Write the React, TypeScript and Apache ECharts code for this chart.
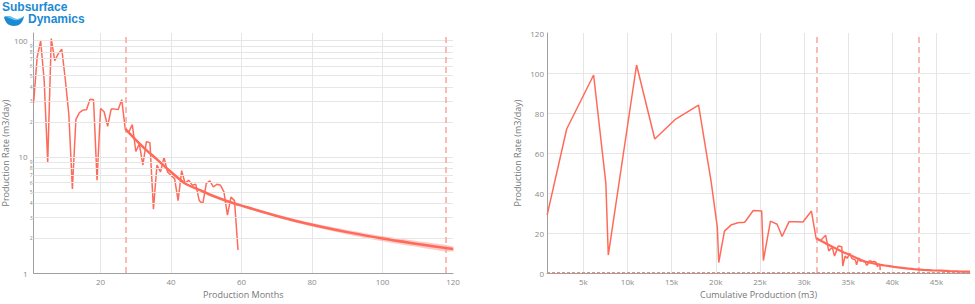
import React, { useEffect, useRef } from "react";
import * as echarts from "echarts";

// ---------- DATA ----------
const months = Array.from({ length: 59 }, (_, i) => i + 1);
const rates = [
  29, 72, 99, 45, 9, 104, 67, 77, 84, 46,
  23, 5.3, 21, 24, 25.2, 25.4, 31.3, 31, 6.3, 26,
  24.4, 18.3, 25.7, 25.7, 25.5, 31, 17.4, 16.3, 18.9, 11.1,
  12.9, 8.5, 13.5, 13.2, 3.55, 8.5, 7.4, 9.9, 7.4, 6.9,
  6.5, 4.2, 7.6, 5.9, 6.3, 5.7, 5.8, 4.2, 3.96, 5.9,
  6.2, 5.5, 5.8, 5.7, 5.0, 3.15, 4.5, 4.2, 1.58,
];
const DAYS_PER_MONTH = 30.8;

const forecastMonths = [27, 30, 33, 36, 40, 44, 48, 52, 56, 60, 70, 80, 90, 100, 110, 120];
const forecastRates = [17.4, 14.0, 11.4, 9.5, 7.4, 5.9, 5.2, 4.6, 4.15, 3.8, 3.1, 2.6, 2.25, 1.98, 1.78, 1.61];
const forecastUpper = [17.4, 14.05, 11.46, 9.56, 7.46, 5.96, 5.27, 4.67, 4.23, 3.88, 3.19, 2.69, 2.35, 2.08, 1.88, 1.69];
const forecastLower = [17.4, 13.95, 11.34, 9.44, 7.34, 5.84, 5.13, 4.53, 4.07, 3.72, 3.01, 2.51, 2.15, 1.88, 1.68, 1.53];

const forecastCum = [31370, 32820, 33990, 34960, 36000, 36820, 37500, 38100, 38650, 39140, 40200, 41080, 41830, 42470, 43050, 43570, 44500, 45500, 46500, 47500, 48800];
const forecastCumRates = [17.4, 14.0, 11.4, 9.5, 7.4, 5.9, 5.2, 4.6, 4.15, 3.8, 3.1, 2.6, 2.25, 1.98, 1.78, 1.61, 1.4, 1.2, 1.0, 0.85, 0.7];

const forecastStartMonth = 27;
const forecastEndMonth = 118;
const forecastStartCum = 31400;
const forecastEndCum = 43000;
const economicLimit = 0.4;

const logGridValues = [2, 3, 4, 5, 6, 7, 8, 9, 10, 20, 30, 40, 50, 60, 70, 80, 90, 100];

// ---------- STYLE ----------
const FONT = "'Open Sans', 'DejaVu Sans', sans-serif";
const RED = "#ff6b5b";
const DASH_RED = "#f7a59c";
const GRID = "#e6e6e6";
const AXIS = "#a0a0a0";
const LABEL = "#8a8a8a";
const LOGO_BLUE = "#1b8ad3";

const WAVE_PATH =
  "M0,2 C3,0 6,1 9,3 C13,5 17,4 20,1 C19,8 15,11 10,11 C4,11 1,7 0,2 Z";
const WAVE_CREST =
  "M1,3 C4,1 7,2 10,4 C13,6 17,5 20,2 C17,6 13,7 10,6 C7,5 4,3 1,3 Z";

export default function App() {
  const ref = useRef<HTMLDivElement>(null);

  useEffect(() => {
    if (!ref.current) return;
    try {
      echarts.graphic.registerShape("logoWave", echarts.graphic.extendPath(WAVE_PATH, {}));
      echarts.graphic.registerShape("logoCrest", echarts.graphic.extendPath(WAVE_CREST, {}));
    } catch (e) {}
    const chart = echarts.init(ref.current, null, { renderer: "svg" });

    const cum: number[] = [];
    let acc = 0;
    rates.forEach((r) => {
      acc += r * DAYS_PER_MONTH;
      cum.push(acc);
    });

    const histLeft = months.map((m, i) => [m, rates[i]]);
    const histRight = cum.map((c, i) => [c, rates[i]]);
    const fcLeft = forecastMonths.map((m, i) => [m, forecastRates[i]]);
    const fcRight = forecastCum.map((c, i) => [c, forecastCumRates[i]]);

    const isPow10 = (v: number) => {
      const l = Math.log10(v);
      return Math.abs(l - Math.round(l)) < 1e-6;
    };

    const option: any = {
      animation: false,
      textStyle: { fontFamily: FONT },
      grid: [
        { left: 31, top: 33, width: 422, height: 242 },
        { left: 547, top: 33, width: 423, height: 242 },
      ],
      xAxis: [
        {
          type: "value",
          gridIndex: 0,
          min: 1,
          max: 120,
          splitNumber: 6,
          name: "Production Months",
          nameLocation: "middle",
          nameGap: 15,
          nameTextStyle: { color: "#777", fontSize: 9, fontFamily: FONT },
          axisLine: { show: true, lineStyle: { color: AXIS } },
          axisTick: { show: false },
          axisLabel: { color: LABEL, fontSize: 8, margin: 4, showMinLabel: false },
          splitLine: { show: true, showMinLine: false, showMaxLine: false, lineStyle: { color: GRID } },
        },
        {
          type: "value",
          gridIndex: 1,
          min: 880,
          max: 48800,
          splitNumber: 10,
          name: "Cumulative Production (m3)",
          nameLocation: "middle",
          nameGap: 15,
          nameTextStyle: { color: "#777", fontSize: 9, fontFamily: FONT },
          axisLine: { show: true, lineStyle: { color: AXIS } },
          axisTick: { show: false },
          axisLabel: {
            color: LABEL,
            fontSize: 8,
            margin: 4,
            showMinLabel: false,
            showMaxLabel: false,
            formatter: (v: number) => v / 1000 + "k",
          },
          splitLine: { show: true, showMinLine: false, showMaxLine: false, lineStyle: { color: GRID } },
        },
      ],
      yAxis: [
        {
          type: "log",
          logBase: 10,
          gridIndex: 0,
          min: 1,
          max: 116,
          name: "Production Rate (m3/day)",
          nameLocation: "middle",
          nameGap: 22,
          nameTextStyle: { color: "#777", fontSize: 9, fontFamily: FONT },
          axisLine: { show: true, lineStyle: { color: AXIS } },
          axisTick: { show: false },
          axisLabel: {
            color: LABEL,
            fontSize: 8,
            margin: 6,
            formatter: (v: number) => (isPow10(v) ? String(Math.round(v)) : ""),
          },
          splitLine: { show: false },
        },
        {
          type: "value",
          gridIndex: 1,
          min: 0,
          max: 120,
          interval: 20,
          name: "Production Rate (m3/day)",
          nameLocation: "middle",
          nameGap: 25,
          nameTextStyle: { color: "#777", fontSize: 9, fontFamily: FONT },
          axisLine: { show: true, lineStyle: { color: AXIS } },
          axisTick: { show: false },
          axisLabel: { color: LABEL, fontSize: 8, margin: 3 },
          splitLine: { show: true, showMinLine: false, showMaxLine: false, lineStyle: { color: GRID } },
        },
      ],
      graphic: [
        {
          type: "text",
          left: 2,
          top: 1,
          style: {
            text: "Subsurface",
            fill: LOGO_BLUE,
            font: "bold 12px 'Liberation Sans', Arial, sans-serif",
            lineHeight: 11,
          },
        },
        {
          type: "text",
          left: 28,
          top: 13,
          style: {
            text: "Dynamics",
            fill: LOGO_BLUE,
            font: "bold 12px 'Liberation Sans', Arial, sans-serif",
            lineHeight: 11,
          },
        },
        {
          type: "logoWave",
          x: 4,
          y: 15,
          style: { fill: LOGO_BLUE },
        },
        {
          type: "logoCrest",
          x: 4,
          y: 14,
          style: { fill: "#6cc3ef" },
        },
      ],
      series: [
        {
          type: "line",
          xAxisIndex: 0,
          yAxisIndex: 0,
          data: [[1, 1]],
          showSymbol: false,
          lineStyle: { width: 0 },
          silent: true,
          z: 1,
          markLine: {
            silent: true,
            symbol: "none",
            animation: false,
            lineStyle: { color: GRID, type: "solid", width: 1 },
            data: logGridValues.map((v) => ({
              yAxis: v,
              label: {
                show: !isPow10(v),
                position: "start",
                distance: 1,
                color: LABEL,
                fontSize: 5,
                lineHeight: 5,
                padding: 0,
                fontFamily: FONT,
                formatter: String(Math.round(v / Math.pow(10, Math.floor(Math.log10(v) + 1e-9)))),
              },
            })),
          },
        },
        {
          type: "custom",
          xAxisIndex: 0,
          yAxisIndex: 0,
          data: [0],
          silent: true,
          z: 3,
          renderItem: (params: any, api: any) => {
            const pts: number[][] = [];
            forecastMonths.forEach((m, i) => pts.push(api.coord([m, forecastUpper[i]])));
            for (let i = forecastMonths.length - 1; i >= 0; i--) pts.push(api.coord([forecastMonths[i], forecastLower[i]]));
            return {
              type: "polygon",
              shape: { points: pts, smooth: 0.3 },
              style: { fill: "rgba(255,107,91,0.35)" },
            };
          },
        },
        {
          type: "line",
          xAxisIndex: 0,
          yAxisIndex: 0,
          data: [[1, 1]],
          showSymbol: false,
          lineStyle: { width: 0 },
          silent: true,
          z: 2,
          markLine: {
            silent: true,
            symbol: "none",
            animation: false,
            label: { show: false },
            lineStyle: { color: DASH_RED, type: [6, 4], width: 1.5 },
            data: [{ xAxis: forecastStartMonth }, { xAxis: forecastEndMonth }],
          },
        },
        {
          name: "History",
          type: "line",
          xAxisIndex: 0,
          yAxisIndex: 0,
          data: histLeft,
          showSymbol: false,
          lineStyle: { color: RED, width: 1.5 },
          z: 4,
        },
        {
          name: "Forecast",
          type: "line",
          xAxisIndex: 0,
          yAxisIndex: 0,
          data: fcLeft,
          smooth: 0.3,
          showSymbol: false,
          lineStyle: { color: RED, width: 2.5 },
          z: 5,
        },
        {
          type: "line",
          xAxisIndex: 1,
          yAxisIndex: 1,
          data: [[880, 0]],
          showSymbol: false,
          lineStyle: { width: 0 },
          silent: true,
          z: 2,
          markLine: {
            silent: true,
            symbol: "none",
            animation: false,
            label: { show: false },
            data: [
              { xAxis: forecastStartCum, lineStyle: { color: DASH_RED, type: [6, 4], width: 1.5 } },
              { xAxis: forecastEndCum, lineStyle: { color: DASH_RED, type: [6, 4], width: 1.5 } },
              { yAxis: economicLimit, lineStyle: { color: "#f28a7f", type: [3, 2], width: 1 } },
            ],
          },
        },
        {
          name: "History (cum)",
          type: "line",
          xAxisIndex: 1,
          yAxisIndex: 1,
          data: histRight,
          showSymbol: false,
          lineStyle: { color: RED, width: 1.5 },
          z: 4,
        },
        {
          name: "Forecast (cum)",
          type: "line",
          xAxisIndex: 1,
          yAxisIndex: 1,
          data: fcRight,
          smooth: 0.3,
          showSymbol: false,
          lineStyle: { color: RED, width: 2.2 },
          z: 5,
        },
      ],
    };

    chart.setOption(option);
    return () => chart.dispose();
  }, []);

  return (
    <div
      ref={ref}
      style={{ position: "fixed", left: 0, top: 0, width: 975, height: 304, background: "#fff" }}
    />
  );
}
